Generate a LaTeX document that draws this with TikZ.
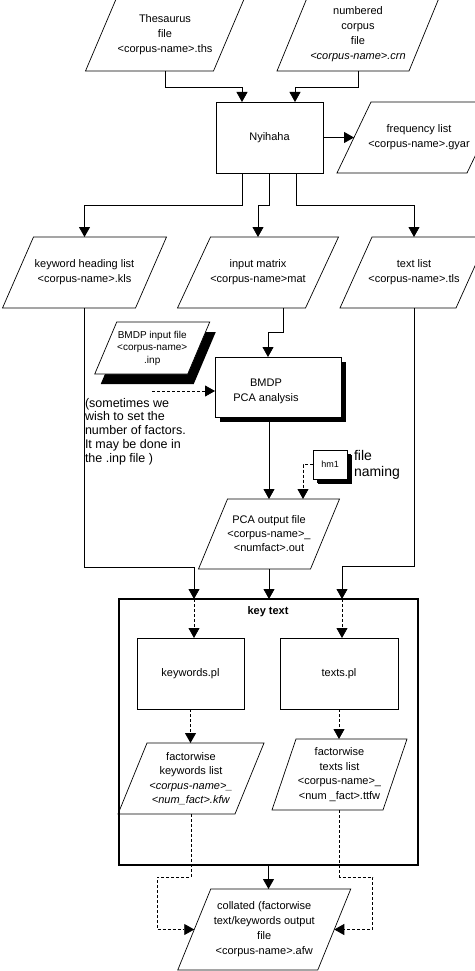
\documentclass[tikz,border=0pt]{standalone}
\usepackage{fontspec}
\setmainfont{Liberation Sans}
\usetikzlibrary{arrows.meta,calc,shadows}
\pgfdeclarelayer{background}
\pgfsetlayers{background,main}
\newcommand{\paraline}[2]{\draw[pline] ([xshift=#2]#1.north west) -- ([xshift=#2]#1.north east) -- ([xshift=-#2]#1.south east) -- ([xshift=-#2]#1.south west) -- cycle;}
\tikzset{
  every node/.style={inner sep=0pt, outer sep=0pt},
  lbl/.style={font=\fontsize{11}{15}\selectfont, align=center},
  pnode/.style={lbl},
  pline/.style={line width=0.7pt},
  arr/.style={line width=0.8pt, -{Triangle[width=11pt,length=10pt]}},
  darr/.style={arr, dash pattern=on 3pt off 2pt},
  box/.style={draw, line width=0.8pt, fill=white, lbl},
  shbox/.style={box, drop shadow={shadow xshift=5pt, shadow yshift=-5pt, fill=black, opacity=1}},
}
\begin{document}
\begin{tikzpicture}[x=1pt,y=-1pt]
\useasboundingbox (0,0) rectangle (474,971);

% top inputs
\node[pnode, minimum width=128pt, minimum height=73pt] (thes) at (165,34.5) {Thesaurus\\file\\<corpus-name>.ths};
\paraline{thes}{15.5pt}
\node[pnode, minimum width=132pt, minimum height=73pt] (corp) at (358,34.5) {numbered\\corpus\\file\\\textit{<corpus-name>.crn}};
\paraline{corp}{15pt}

% Nyihaha
\node[box, minimum width=107pt, minimum height=71pt] (nyi) at (269.5,137.5) {Nyihaha};
\node[pnode, minimum width=130pt, minimum height=71pt] (freq) at (419,137.5) {frequency list\\<corpus-name>.gyar};
\paraline{freq}{17pt}

% outputs row
\node[pnode, minimum width=133pt, minimum height=71pt] (kwh) at (84.5,272.5) {keyword heading list\\<corpus-name>.kls};
\paraline{kwh}{15.5pt}
\node[pnode, minimum width=128pt, minimum height=71pt] (inm) at (258,272.5) {input matrix\\<corpus-name>mat};
\paraline{inm}{16.5pt}
\node[pnode, minimum width=116pt, minimum height=71pt] (txl) at (414,272.5) {text list\\<corpus-name>.tls};
\paraline{txl}{16pt}

% BMDP input file with shadow
\node[pnode, font=\fontsize{10}{12.5}\selectfont, minimum width=93pt, minimum height=52pt] (bin) at (152.25,348) {BMDP input file\\<corpus-name>\\.inp};
\begin{pgfonlayer}{background}
\fill[black] ($(bin.north west)+(17,10)$) -- ($(bin.north east)+(17,10)$) -- ($(bin.south east)+(-5,10)$) -- ($(bin.south west)+(-5,10)$) -- cycle;
\fill[white] ([xshift=11pt]bin.north west) -- ([xshift=11pt]bin.north east) -- ([xshift=-11pt]bin.south east) -- ([xshift=-11pt]bin.south west) -- cycle;
\end{pgfonlayer}
\paraline{bin}{11pt}

% BMDP PCA analysis
\node[shbox, minimum width=126pt, minimum height=60pt] (bmdp) at (278,387) {};
\node[lbl] (bmdptxt) at (266,391) {BMDP\\PCA analysis};

% note
\node[anchor=north west, align=left, font=\fontsize{12.5}{13.8}\selectfont] (note) at (85,398) {(sometimes we\\wish to set the\\number of factors.\\It may be done in\\the .inp file )};

% hm1
\node[shbox, font=\fontsize{9}{11}\selectfont, minimum width=34pt, minimum height=29pt, drop shadow={shadow xshift=4pt, shadow yshift=-4pt, fill=black, opacity=1}] (hm1) at (330,464.5) {hm1};
\node[anchor=west, align=left, font=\fontsize{14}{16}\selectfont] (fn) at (354,465) {file\\naming};

% PCA output
\node[pnode, font=\fontsize{11}{14}\selectfont, minimum width=112pt, minimum height=70pt] (pca) at (269,534) {PCA output file\\<corpus-name>\_\\<numfact>.out};
\paraline{pca}{14.5pt}

% key text container
\node[draw, line width=2pt, minimum width=299pt, minimum height=266pt] (kt) at (268.5,732) {};
\node[font=\bfseries\fontsize{11}{13}\selectfont] (kttitle) at (268,612) {key text};
\node[box, minimum width=107pt, minimum height=71pt] (kwpl) at (190.5,673.5) {keywords.pl};
\node[box, minimum width=118pt, minimum height=71pt] (txpl) at (339,673.5) {texts.pl};
\node[pnode, font=\fontsize{11}{14.5}\selectfont, minimum width=117pt, minimum height=71pt] (kfw) at (191,778.5) {factorwise\\keywords list\\\textit{<corpus-name>\_}\\\textit{<num\_fact>.kfw}};
\paraline{kfw}{14.5pt}
\node[pnode, font=\fontsize{11}{14.5}\selectfont, minimum width=111pt, minimum height=71pt] (tfw) at (339.5,774.5) {factorwise\\texts list\\<corpus-name>\_\\<num \_fact>.ttfw};
\paraline{tfw}{12pt}

% collated
\node[pnode, minimum width=140pt, minimum height=81pt] (coll) at (264.25,929.5) {collated (factorwise\\text/keywords output\\file\\<corpus-name>.afw};
\paraline{coll}{16.5pt}

% connectors
\draw[arr] (thes.south) -- ++(0,16) -| ([xshift=-27.5pt]nyi.north);
\draw[arr] (corp.south) -- ++(0,16) -| ([xshift=25.5pt]nyi.north);
\draw[arr] (nyi.east) -- (freq.west);
\draw[arr] ([xshift=-27.5pt]nyi.south) -- ++(0,32) -| (kwh.north);
\draw[arr] (nyi.south) -- ++(0,32) -| (inm.north);
\draw[arr] ([xshift=26.5pt]nyi.south) -- ++(0,32) -| (txl.north);
\draw[arr] ([xshift=25pt]inm.south) -- ++(0,24) -| ([xshift=-10pt]bmdp.north);
\coordinate (binout) at ($(bin.south)+(0,17)$);
\draw[darr] (binout) -- (binout -| bmdp.west);
\draw[arr] (pca.north |- bmdp.south) -- (pca.north);
\draw[darr] (hm1.west) -| ([xshift=34pt]pca.north);
\draw[arr] (kwh.south) -- ++(0,259) -| ([xshift=-74.5pt]kt.north);
\draw[arr] (pca.south) -- (pca.south |- kt.north);
\draw[arr] (txl.south) -- ++(0,258) -| ([xshift=73.5pt]kt.north);
\draw[darr] ([xshift=-74.5pt]kt.north) -- ([xshift=-74.5pt]kt.north |- kwpl.north);
\draw[darr] ([xshift=73.5pt]kt.north) -- ([xshift=73.5pt]kt.north |- txpl.north);
\draw[darr] (kwpl.south) -- (kwpl.south |- kfw.north);
\draw[darr] (txpl.south) -- (txpl.south |- tfw.north);
\draw[arr] (kt.south) -- (kt.south |- coll.north);
\draw[darr] (kfw.south) -- ++(0,63) -- ++(-34,0) |- (coll.west);
\draw[darr] (tfw.south) -- ++(0,67) -- ++(33,0) |- (coll.east);
\end{tikzpicture}
\end{document}
